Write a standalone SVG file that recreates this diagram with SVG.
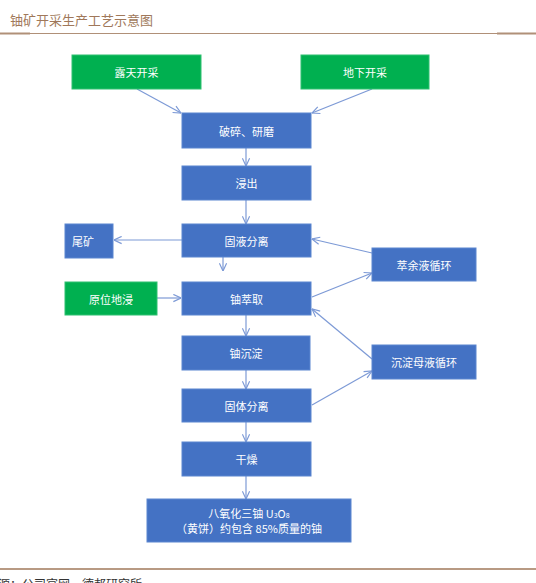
<svg xmlns="http://www.w3.org/2000/svg" width="536" height="583" viewBox="0 0 536 583">
<style>
.b{fill:#4472C4;stroke:#5B86D0;stroke-width:1}
.g{fill:#00B050;stroke:#2FC070;stroke-width:1}
.t{font-family:"Noto Sans CJK SC","Noto Sans",sans-serif;font-size:11px;fill:#ffffff;text-anchor:middle;dominant-baseline:central}
.c line{stroke:#7D9AD6;stroke-width:1.2;fill:none;marker-end:url(#ah)}
</style>
<defs>
<marker id="ah" viewBox="0 0 10 10" refX="9.5" refY="5" markerWidth="9" markerHeight="9" markerUnits="userSpaceOnUse" orient="auto">
<path d="M1,1 L9.5,5 L1,9" fill="none" stroke="#7D9AD6" stroke-width="1.3"/>
</marker>
</defs>
<rect width="536" height="583" fill="#ffffff"/>
<g id="header">
<text x="10" y="25" font-family="Noto Sans CJK SC,sans-serif" font-size="13" fill="#A0785A">铀矿开采生产工艺示意图</text>
<line x1="0" y1="33.5" x2="536" y2="33.5" stroke="#B09078" stroke-width="1"/>
<line x1="0" y1="33.5" x2="30" y2="33.5" stroke="#B09078" stroke-width="2"/>
<line x1="497" y1="33.5" x2="536" y2="33.5" stroke="#B09078" stroke-width="2"/>
</g>
<g class="c" id="connectors">
<line x1="137" y1="89" x2="181" y2="113"/>
<line x1="372" y1="89" x2="312" y2="113"/>
<line x1="246" y1="148" x2="246" y2="166"/>
<line x1="246" y1="200" x2="246" y2="224"/>
<line x1="182" y1="240" x2="114" y2="240"/>
<line x1="223" y1="257" x2="223" y2="271"/>
<line x1="157" y1="298" x2="181" y2="298"/>
<line x1="372" y1="253" x2="312" y2="239"/>
<line x1="312" y1="297" x2="372" y2="273"/>
<line x1="372" y1="359" x2="312" y2="309"/>
<line x1="312" y1="405" x2="372" y2="371"/>
<line x1="246" y1="315" x2="246" y2="336"/>
<line x1="246" y1="370" x2="246" y2="389"/>
<line x1="246" y1="422" x2="246" y2="442"/>
<line x1="246" y1="476" x2="246" y2="499"/>
</g>
<g id="n1"><rect class="g" x="72" y="55" width="129" height="34"/><text class="t" x="136.5" y="72">露天开采</text></g>
<g id="n2"><rect class="g" x="301" y="55" width="128" height="34"/><text class="t" x="365" y="72">地下开采</text></g>
<g id="n3"><rect class="b" x="182" y="113" width="129" height="35"/><text class="t" x="246.5" y="130.5">破碎、研磨</text></g>
<g id="n4"><rect class="b" x="182" y="166" width="129" height="34"/><text class="t" x="246.5" y="183">浸出</text></g>
<g id="n5"><rect class="b" x="182" y="224" width="129" height="33"/><text class="t" x="246.5" y="240.5">固液分离</text></g>
<g id="n6"><rect class="b" x="65" y="224" width="48" height="34"/><text class="t" x="83" y="241">尾矿</text></g>
<g id="n7"><rect class="b" x="372" y="248" width="104" height="33"/><text class="t" x="424" y="264.5">萃余液循环</text></g>
<g id="n8"><rect class="g" x="65" y="282" width="92" height="33"/><text class="t" x="111" y="298.5">原位地浸</text></g>
<g id="n9"><rect class="b" x="182" y="282" width="129" height="33"/><text class="t" x="246.5" y="298.5">铀萃取</text></g>
<g id="n10"><rect class="b" x="182" y="336" width="128" height="34"/><text class="t" x="246" y="353">铀沉淀</text></g>
<g id="n11"><rect class="b" x="372" y="345" width="104" height="34"/><text class="t" x="424" y="362">沉淀母液循环</text></g>
<g id="n12"><rect class="b" x="182" y="389" width="129" height="33"/><text class="t" x="246.5" y="405.5">固体分离</text></g>
<g id="n13"><rect class="b" x="182" y="442" width="129" height="34"/><text class="t" x="246.5" y="459">干燥</text></g>
<g id="n14"><rect class="b" x="147" y="499" width="204" height="43"/>
<text class="t" x="249" y="513">八氧化三铀 U<tspan font-size="7" dy="2">3</tspan><tspan dy="-2">O</tspan><tspan font-size="7" dy="2">8</tspan></text>
<text class="t" x="249" y="528">（黄饼）约包含 85%质量的铀</text></g>
<g id="footer">
<line x1="0" y1="569" x2="536" y2="569" stroke="#A0785A" stroke-width="1.5"/>
<text x="-2" y="589" font-family="Noto Sans CJK SC,sans-serif" font-size="12" fill="#333333">源：公司官网，德邦研究所</text>
</g>
</svg>
